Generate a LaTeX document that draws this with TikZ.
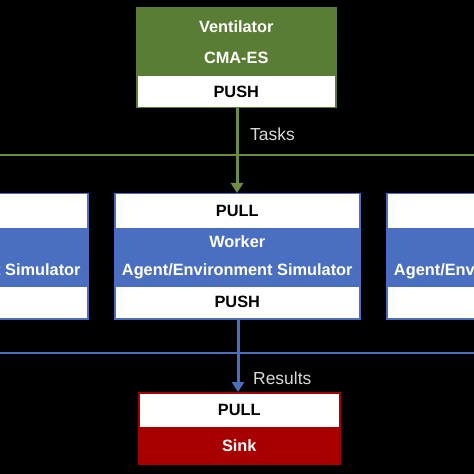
\documentclass[tikz,border=0pt]{standalone}
\usepackage{fontspec}
\setmainfont{Liberation Sans}
\usetikzlibrary{arrows.meta}
\definecolor{vgreen}{HTML}{5A7D35}
\definecolor{lgreen}{HTML}{6E8C3F}
\definecolor{wblue}{HTML}{4A6FC0}
\definecolor{sred}{HTML}{A80000}
\tikzset{
  part/.style={draw=#1, line width=1.5bp, minimum width=199bp, anchor=north west, inner sep=0pt,
     font=\fontsize{16.4}{19}\selectfont\bfseries, align=center},
  whitepart/.style={part=#1, fill=white, text=black},
  colpart/.style={part=#1, fill=#1, text=white},
  bus/.style={line width=2.5bp},
  flow/.style={line width=3bp, -{Triangle[length=10bp,width=12bp]}},
  lbl/.style={text=white!85!black, font=\fontsize{17.5}{20}\selectfont, anchor=west, inner sep=0pt}
}
\begin{document}
\begin{tikzpicture}[x=1bp,y=-1bp]
\fill[black] (0,0) rectangle (474,474);
\useasboundingbox (0,0) rectangle (474,474);
\begin{scope}
\clip (0,0) rectangle (474,474);
% Ventilator
\node[colpart=vgreen, minimum height=68bp] (vent) at (136,7) {Ventilator\\[12bp]CMA-ES};
\node[whitepart=vgreen, minimum height=32bp] (ventpush) at (136,75) {PUSH};
% Workers
\foreach \nm/\dx in {wl/-272, wc/0, wr/272} {
  \node[whitepart=wblue, minimum width=245bp, minimum height=35bp] (\nm pull) at (114+\dx,193) {PULL};
  \node[colpart=wblue, minimum width=245bp, minimum height=57bp] (\nm mid) at (114+\dx,228) {Worker\\[9bp]Agent/Environment Simulator};
  \node[whitepart=wblue, minimum width=245bp, minimum height=33bp] (\nm push) at (114+\dx,285) {PUSH};
}
% Sink
\node[whitepart=sred, minimum width=201bp, minimum height=35bp] (sinkpull) at (138,392) {PULL};
\node[colpart=sred, minimum width=201bp, minimum height=36bp] (sink) at (138,427) {Sink};
% buses
\coordinate (gL) at (0,155); \coordinate (gR) at (474,155);
\coordinate (bL) at (0,353); \coordinate (bR) at (474,353);
\draw[bus, lgreen] (gL) -- (gR);
\draw[bus, wblue] (bL) -- (bR);
% flows
\draw[flow, lgreen] (ventpush.south -| 237,0) -- (wcpull.north -| 237,0);
\draw[flow, wblue] (wcpush.south -| 238,0) -- (sinkpull.north -| 238,0);
\node[lbl] (tasks) at (250,134) {Tasks};
\node[lbl] (results) at (253,378) {Results};
\end{scope}
\end{tikzpicture}
\end{document}
